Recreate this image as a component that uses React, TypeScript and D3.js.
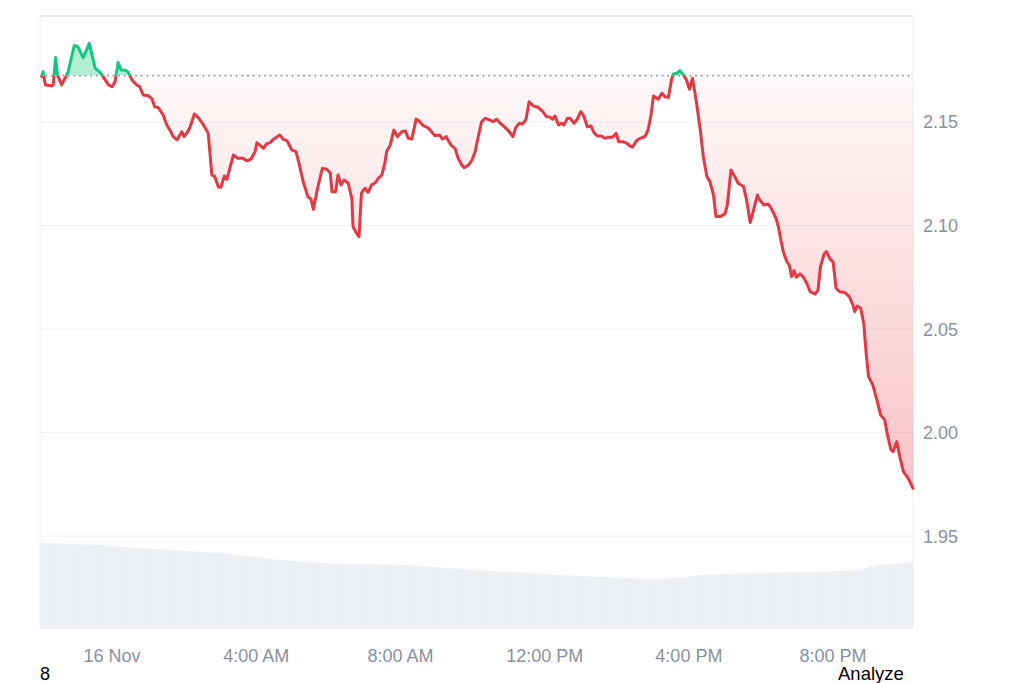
import React from "react";
import * as d3 from "d3";

// ---- Data (minutes after 15 Nov 22:00, price in USD) ----
const priceTimes: number[] = [
  3, 5, 9, 19, 22, 26, 29, 36, 43, 47, 57, 63, 72, 82, 92, 100, 105, 114, 120, 125,
  130, 135, 141, 147, 153, 161, 166, 172, 180, 186, 191, 197, 205, 211, 216, 222, 228, 236, 240, 246,
  250, 257, 263, 272, 280, 286, 291, 297, 301, 307, 311, 322, 329, 338, 344, 351, 358, 361, 372, 377,
  383, 388, 399, 405, 411, 419, 426, 430, 438, 446, 451, 455, 462, 470, 477, 483, 486, 492, 496, 501,
  506, 513, 519, 521, 527, 531, 535, 541, 546, 552, 559, 563, 569, 574, 577, 583, 589, 595, 602, 608,
  613, 619, 626, 631, 638, 646, 657, 665, 670, 676, 684, 691, 696, 702, 706, 713, 719, 724, 730, 735,
  741, 748, 754, 760, 766, 774, 781, 787, 792, 798, 803, 809, 814, 821, 829, 837, 843, 849, 853, 857,
  863, 868, 872, 878, 882, 889, 894, 900, 905, 911, 917, 922, 928, 935, 940, 946, 953, 959, 963, 970,
  977, 982, 986, 993, 999, 1007, 1012, 1017, 1021, 1029, 1035, 1040, 1046, 1051, 1054, 1060, 1065, 1071, 1076, 1081,
  1086, 1092, 1099, 1104, 1110, 1115, 1121, 1125, 1132, 1140, 1144, 1150, 1157, 1162, 1171, 1176, 1182, 1187, 1194, 1198,
  1205, 1212, 1218, 1225, 1229, 1232, 1237, 1243, 1247, 1251, 1255, 1259, 1265, 1270, 1276, 1282, 1290, 1295, 1299, 1305,
  1309, 1315, 1320, 1325, 1331, 1340, 1347, 1353, 1356, 1360, 1366, 1371, 1375, 1379, 1386, 1393, 1399, 1406, 1410, 1416,
  1420, 1426, 1431, 1437, 1445, 1453,
];
const priceValues: number[] = [
  2.1719, 2.1743, 2.1679, 2.1675, 2.1679, 2.1811, 2.1727, 2.1679, 2.1719, 2.1743, 2.1869, 2.1864, 2.1811, 2.188, 2.1759, 2.174, 2.1719, 2.1679, 2.167, 2.1695,
  2.1788, 2.1751, 2.1751, 2.174, 2.1703, 2.1679, 2.167, 2.163, 2.1627, 2.1614, 2.1574, 2.1569, 2.1534, 2.1486, 2.1461, 2.1429, 2.1413, 2.1453, 2.1429, 2.1453,
  2.1477, 2.1539, 2.1523, 2.1486, 2.1445, 2.1244, 2.1236, 2.1185, 2.1185, 2.1239, 2.1223, 2.1341, 2.1325, 2.1325, 2.1312, 2.132, 2.1357, 2.14, 2.1373, 2.1394,
  2.14, 2.1416, 2.1437, 2.1416, 2.141, 2.1365, 2.1357, 2.1313, 2.1212, 2.1139, 2.1127, 2.1078, 2.118, 2.1276, 2.1272, 2.1255, 2.1163, 2.1163, 2.1244, 2.1196,
  2.122, 2.1204, 2.1131, 2.0994, 2.0962, 2.0946, 2.1156, 2.118, 2.116, 2.1196, 2.1209, 2.1228, 2.1244, 2.1301, 2.1357, 2.1389, 2.1461, 2.1429, 2.1453, 2.1457,
  2.1421, 2.1418, 2.1514, 2.1505, 2.1482, 2.1472, 2.1434, 2.1437, 2.1418, 2.1429, 2.1389, 2.137, 2.1325, 2.1292, 2.1279, 2.1292, 2.1316, 2.1354, 2.1437, 2.1501,
  2.1518, 2.151, 2.1501, 2.1513, 2.1494, 2.1474, 2.1453, 2.1429, 2.1474, 2.1494, 2.149, 2.1513, 2.1598, 2.1577, 2.1571, 2.155, 2.1526, 2.1523, 2.1513, 2.1529,
  2.1486, 2.1494, 2.1486, 2.1518, 2.1518, 2.1494, 2.1513, 2.155, 2.1529, 2.1477, 2.1481, 2.1448, 2.1432, 2.1432, 2.1421, 2.1426, 2.1426, 2.1445, 2.1405, 2.1405,
  2.1397, 2.1384, 2.1378, 2.141, 2.1421, 2.143, 2.1461, 2.1534, 2.1626, 2.161, 2.1639, 2.1622, 2.1619, 2.1703, 2.1732, 2.1735, 2.1748, 2.1727, 2.1703, 2.1658,
  2.1711, 2.1606, 2.1461, 2.1332, 2.1236, 2.1212, 2.1147, 2.1043, 2.1043, 2.1056, 2.1099, 2.1268, 2.1233, 2.1204, 2.1188, 2.1123, 2.1014, 2.1067, 2.1147, 2.1123,
  2.1099, 2.1104, 2.1078, 2.1035, 2.0994, 2.0946, 2.0874, 2.0825, 2.0809, 2.0753, 2.0782, 2.075, 2.0766, 2.0753, 2.0721, 2.068, 2.0669, 2.0689, 2.0801, 2.0862,
  2.0874, 2.0837, 2.0825, 2.0697, 2.068, 2.0676, 2.0656, 2.0616, 2.0584, 2.0611, 2.06, 2.0528, 2.0383, 2.027, 2.023, 2.0157, 2.0085, 2.0061, 1.9996, 1.9919,
  1.9908, 1.9956, 1.9883, 1.9811, 1.9779, 1.9731,
];
const openPrice = 2.1724;

// 24h volume (arbitrary units), minutes after 15 Nov 22:00
const volumeTimes: number[] = [0, 50, 100, 158, 216, 275, 333, 399, 466, 533, 599, 657, 716, 786, 865, 932, 1015, 1065, 1099, 1148, 1198, 1265, 1331, 1365, 1381, 1398, 1453];
const volumeValues: number[] = [863, 850, 840, 810, 790, 770, 740, 690, 660, 650, 640, 620, 590, 570, 540, 520, 500, 510, 540, 550, 560, 570, 580, 590, 620, 640, 670];

const yTicks: number[] = [1.95, 2.0, 2.05, 2.1, 2.15];
const xTickHours: number[] = [0, 4, 8, 12, 16, 20];
const xTickLabels: string[] = ["16 Nov", "4:00 AM", "8:00 AM", "12:00 PM", "4:00 PM", "8:00 PM"];

const START = new Date(2024, 10, 15, 22, 0);
const tAt = (m: number) => new Date(START.getTime() + m * 60000);

export default function App() {
  const W = 1024, H = 683;
  const left = 40, right = 913, top = 16, bottom = 629;

  const x = d3.scaleTime().domain([tAt(0), tAt(1453)]).range([left, right]);
  const y = d3.scaleLinear().domain([1.9051, 2.2012]).range([bottom, top]);
  const yv = d3.scaleLinear().domain([0, 1000]).range([bottom, bottom - 100]);

  const pts = priceTimes.map((m, i) => ({ t: tAt(m), v: priceValues[i] }));
  const line = d3.line<{ t: Date; v: number }>().x((d) => x(d.t)).y((d) => y(d.v));
  const area = d3
    .area<{ t: Date; v: number }>()
    .x((d) => x(d.t))
    .y0(y(openPrice))
    .y1((d) => y(d.v));
  const vol = volumeTimes.map((m, i) => ({ t: tAt(m), v: volumeValues[i] }));
  const volArea = d3
    .area<{ t: Date; v: number }>()
    .x((d) => x(d.t))
    .y0(yv(0))
    .y1((d) => yv(d.v));

  const base = y(openPrice);
  const minY = y(d3.min(priceValues) as number);
  const font = "'Liberation Sans', Arial, Helvetica, sans-serif";
  const gray = "#8a919e";

  return (
    <svg
      width={W}
      height={H}
      style={{ position: "absolute", left: 0, top: 0, display: "block", background: "#fff" }}
    >
      <defs>
        <clipPath id="above">
          <rect x={0} y={0} width={W} height={base} />
        </clipPath>
        <clipPath id="below">
          <rect x={0} y={base} width={W} height={H - base} />
        </clipPath>
        <linearGradient id="redGrad" gradientUnits="userSpaceOnUse" x1={0} y1={base} x2={0} y2={minY}>
          <stop offset="0" stopColor="#ea3943" stopOpacity={0.03} />
          <stop offset="1" stopColor="#ea3943" stopOpacity={0.3} />
        </linearGradient>
        <pattern id="volPat" patternUnits="userSpaceOnUse" width={3} height={10}>
          <rect x={0} y={0} width={3} height={10} fill="#ebeef2" />
          <rect x={2.2} y={0} width={0.8} height={10} fill="#f3f5f7" />
        </pattern>
      </defs>

      {/* frame */}
      <line x1={left} x2={right} y1={top} y2={top} stroke="#e2e2e2" strokeWidth={1.5} />
      <line x1={left} x2={left} y1={top} y2={bottom} stroke="#f0f0f0" />
      <line x1={right} x2={right} y1={top} y2={bottom} stroke="#eeeeee" />

      {/* grid */}
      {yTicks.map((t) => (
        <line key={t} x1={left} x2={right} y1={y(t)} y2={y(t)} stroke="#eff1f4" strokeWidth={1} />
      ))}

      {/* volume */}
      <path d={volArea(vol) || ""} fill="url(#volPat)" />

      {/* fills */}
      <path d={area(pts) || ""} fill="url(#redGrad)" clipPath="url(#below)" />
      <path d={area(pts) || ""} fill="#16c784" fillOpacity={0.33} clipPath="url(#above)" />

      {/* baseline */}
      <line
        x1={left}
        x2={right}
        y1={base}
        y2={base}
        stroke="#8f959e"
        strokeWidth={1.6}
        strokeDasharray="1.6,4"
      />

      {/* price line */}
      <path
        d={line(pts) || ""}
        fill="none"
        stroke="#e23a45"
        strokeWidth={3}
        strokeLinejoin="round"
        strokeLinecap="round"
        clipPath="url(#below)"
      />
      <path
        d={line(pts) || ""}
        fill="none"
        stroke="#16c784"
        strokeWidth={3}
        strokeLinejoin="round"
        strokeLinecap="round"
        clipPath="url(#above)"
      />

      {/* y axis labels */}
      {yTicks.map((t) => (
        <text
          key={t}
          x={923}
          y={y(t)}
          dy="0.36em"
          fontFamily={font}
          fontSize={18}
          fill={gray}
        >
          {t.toFixed(2)}
        </text>
      ))}

      {/* x axis labels */}
      {xTickHours.map((h, i) => (
        <text
          key={h}
          x={x(tAt(120 + h * 60))}
          y={662}
          textAnchor="middle"
          fontFamily={font}
          fontSize={18}
          fill={gray}
        >
          {xTickLabels[i]}
        </text>
      ))}

      <text x={40} y={680} fontFamily={font} fontSize={18} fill="#000">
        8
      </text>
      <text x={838} y={680} fontFamily={font} fontSize={18.5} fill="#000">
        Analyze
      </text>
    </svg>
  );
}
